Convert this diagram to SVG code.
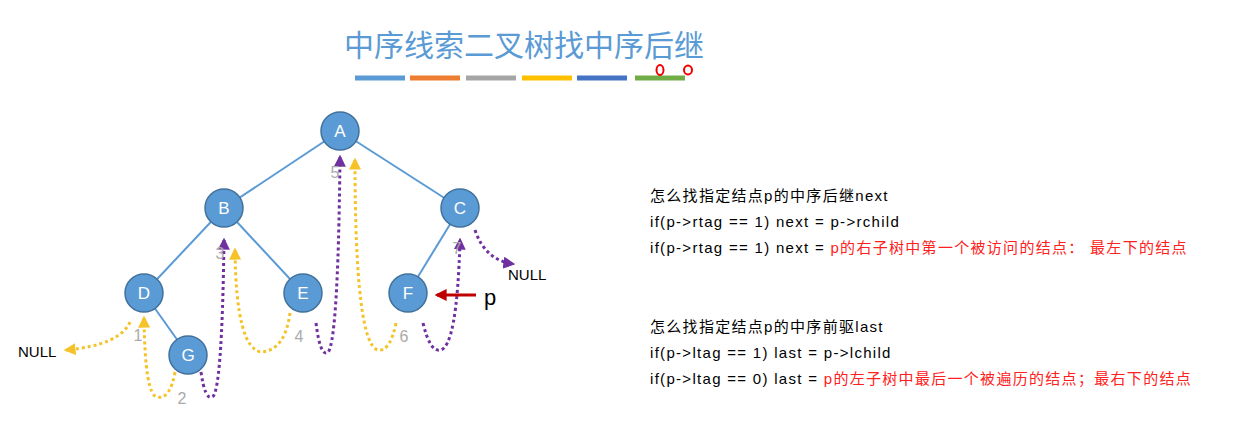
<svg xmlns="http://www.w3.org/2000/svg" width="1243" height="426" viewBox="0 0 1243 426">
<style>
.n{fill:#5b9bd5;stroke:#41719c;stroke-width:1.5}
.nt{font:17px "Liberation Sans",sans-serif;fill:#fff;text-anchor:middle}
.e{stroke:#5b9bd5;stroke-width:2;fill:none}
.y{stroke:#f5c227;stroke-width:3;stroke-dasharray:3 3;fill:none;marker-end:url(#ay)}
.p{stroke:#7030a0;stroke-width:3;stroke-dasharray:3 3;fill:none;marker-end:url(#ap)}
.num{font:16px "Liberation Sans",sans-serif;fill:#aaa;text-anchor:middle}
.t{font:15px "Liberation Sans","Noto Sans CJK SC",sans-serif;fill:#000;letter-spacing:1.3px}
.r{fill:#ff2020}
</style>
<defs>
<marker id="ay" viewBox="0 0 10 10" refX="8" refY="5" markerWidth="4" markerHeight="4" orient="auto"><path d="M0,0L10,5L0,10z" fill="#f5c227"/></marker>
<marker id="ap" viewBox="0 0 10 10" refX="8" refY="5" markerWidth="4" markerHeight="4" orient="auto"><path d="M0,0L10,5L0,10z" fill="#7030a0"/></marker>
<marker id="ar" viewBox="0 0 10 10" refX="8" refY="5" markerWidth="4" markerHeight="4" orient="auto"><path d="M0,0L10,5L0,10z" fill="#c00000"/></marker>
</defs>
<rect width="1243" height="426" fill="#fff"/>
<text x="524" y="56" text-anchor="middle" style="font:30px 'Noto Sans CJK SC',sans-serif;fill:#5b9bd5">中序线索二叉树找中序后继</text>
<g stroke-width="5">
<line x1="355" y1="78" x2="405" y2="78" stroke="#5b9bd5"/>
<line x1="410" y1="78" x2="460" y2="78" stroke="#ed7d31"/>
<line x1="466" y1="78" x2="516" y2="78" stroke="#a5a5a5"/>
<line x1="522" y1="78" x2="572" y2="78" stroke="#ffc000"/>
<line x1="577" y1="78" x2="627" y2="78" stroke="#4472c4"/>
<line x1="635" y1="78" x2="685" y2="78" stroke="#70ad47"/>
</g>
<ellipse cx="660" cy="70" rx="3.5" ry="5" fill="none" stroke="#e00" stroke-width="2"/>
<ellipse cx="688" cy="70" rx="4" ry="4.5" fill="none" stroke="#e00" stroke-width="2"/>
<g id="edges">
<line class="e" x1="340" y1="131" x2="224" y2="208"/>
<line class="e" x1="340" y1="131" x2="460" y2="208"/>
<line class="e" x1="224" y1="208" x2="144" y2="293"/>
<line class="e" x1="224" y1="208" x2="303" y2="293"/>
<line class="e" x1="460" y1="208" x2="408" y2="293"/>
<line class="e" x1="144" y1="293" x2="188" y2="355"/>
</g>
<g id="threads">
<path class="y" d="M130,322 Q120,345 66,350"/>
<path class="y" d="M175,372 Q170,400 157,397 Q145,395 144,318"/>
<path class="p" d="M201,372 Q205,400 212,397 Q222,395 224,240"/>
<path class="y" d="M290,313 Q285,350 262,352 Q236,350 235,250"/>
<path class="p" d="M316,323 Q320,355 327,353 Q338,350 340,157"/>
<path class="y" d="M396,323 Q390,352 378,350 Q355,345 355,160"/>
<path class="p" d="M423,323 Q430,352 440,350 Q457,348 460,240"/>
<path class="p" d="M475,230 Q485,260 513,264"/>
<line x1="476" y1="295" x2="437" y2="295" stroke="#c00000" stroke-width="3" marker-end="url(#ar)"/>
</g>
<g id="A"><circle class="n" cx="340" cy="131" r="19"/><text class="nt" x="340" y="137">A</text></g>
<g id="B"><circle class="n" cx="224" cy="208" r="19"/><text class="nt" x="224" y="214">B</text></g>
<g id="C"><circle class="n" cx="460" cy="208" r="19"/><text class="nt" x="460" y="214">C</text></g>
<g id="D"><circle class="n" cx="144" cy="293" r="19"/><text class="nt" x="144" y="299">D</text></g>
<g id="E"><circle class="n" cx="303" cy="293" r="19"/><text class="nt" x="303" y="299">E</text></g>
<g id="F"><circle class="n" cx="408" cy="293" r="19"/><text class="nt" x="408" y="299">F</text></g>
<g id="G"><circle class="n" cx="188" cy="355" r="19"/><text class="nt" x="188" y="361">G</text></g>
<g class="num">
<text x="335" y="178">5</text><text x="220" y="259">3</text><text x="138" y="341">1</text>
<text x="182" y="404">2</text><text x="299" y="342">4</text><text x="404" y="342">6</text><text x="457" y="254">7</text>
</g>
<text x="18" y="357" style="font:15px 'Liberation Sans',sans-serif">NULL</text>
<text x="508" y="280" style="font:15px 'Liberation Sans',sans-serif">NULL</text>
<text x="484" y="305" style="font:22px 'Liberation Sans',sans-serif">p</text>
<g class="t">
<text x="650" y="201">怎么找指定结点p的中序后继next</text>
<text x="650" y="227">if(p-&gt;rtag == 1) next = p-&gt;rchild</text>
<text x="650" y="253">if(p-&gt;rtag == 1) next = <tspan class="r">p的右子树中第一个被访问的结点：  最左下的结点</tspan></text>
<text x="650" y="332">怎么找指定结点p的中序前驱last</text>
<text x="650" y="358">if(p-&gt;ltag == 1) last = p-&gt;lchild</text>
<text x="650" y="384">if(p-&gt;ltag == 0) last = <tspan class="r">p的左子树中最后一个被遍历的结点；最右下的结点</tspan></text>
</g>
</svg>
